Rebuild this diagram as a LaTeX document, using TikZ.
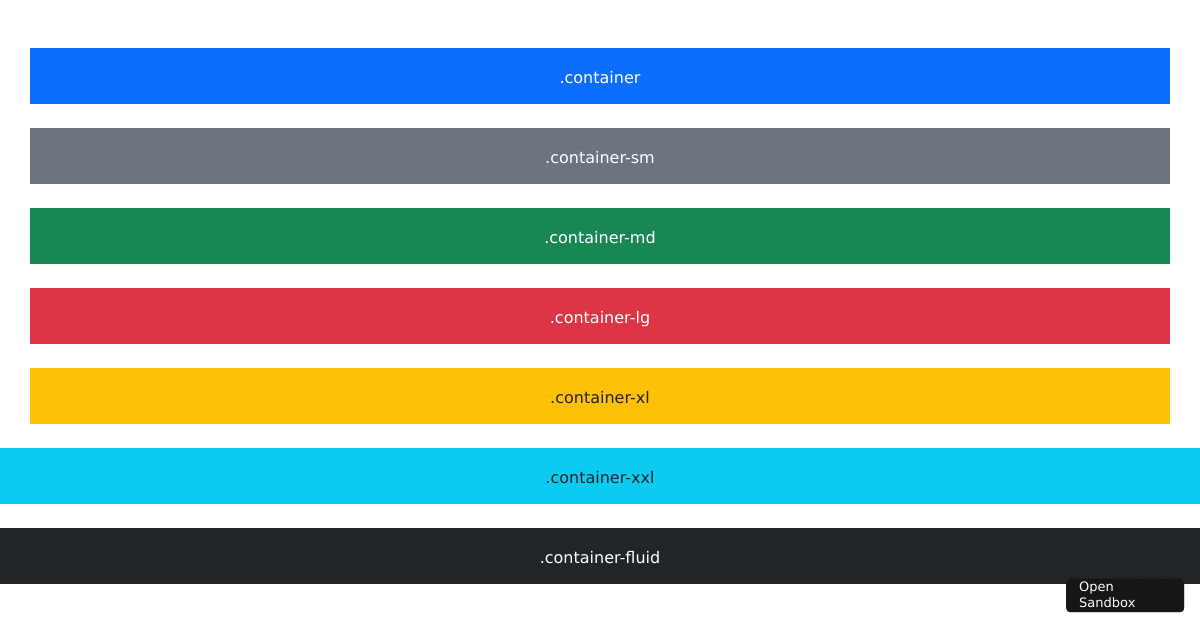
\documentclass[tikz,border=0pt]{standalone}
\usepackage{fontspec}
\setmainfont{DejaVu Sans}
\usepackage{xcolor}
\usepackage{tikz}
\usetikzlibrary{positioning}
\definecolor{bsprimary}{HTML}{0D6EFD}
\definecolor{bssecondary}{HTML}{6C757D}
\definecolor{bssuccess}{HTML}{198754}
\definecolor{bsdanger}{HTML}{DC3545}
\definecolor{bswarning}{HTML}{FFC107}
\definecolor{bsinfo}{HTML}{0DCAF0}
\definecolor{bsdark}{HTML}{212529}
\definecolor{btnfill}{HTML}{161616}
\tikzset{
  %% Container bars
  barbox/.style={
    rectangle, draw=none, inner sep=0pt, outer sep=0pt,
    minimum width=1140pt, minimum height=56pt,
    text height=14pt, text depth=0pt,
    font=\fontsize{16}{19}\selectfont, text=white},
  widebar/.style={barbox, minimum width=1200pt},
  darktext/.style={text=bsdark},
  %% Sandbox button
  btnbox/.style={
    rectangle, rounded corners=4pt,
    fill=btnfill, draw=black!60, densely dotted,
    text width=92pt, align=left, inner xsep=13pt, inner ysep=2pt,
    minimum height=34pt, text=white,
    font=\fontsize{13}{16}\selectfont},
}
\begin{document}
\begin{tikzpicture}[x=1pt, y=-1pt, node distance=24pt]
  \useasboundingbox[fill=white] (0,0) rectangle (1200,630);

  %% Bars
  \node[barbox, fill=bsprimary] (cont) at (600,76) {.container};
  \node[barbox, fill=bssecondary, below=of cont] (contsm) {.container-sm};
  \node[barbox, fill=bssuccess, below=of contsm] (contmd) {.container-md};
  \node[barbox, fill=bsdanger, below=of contmd] (contlg) {.container-lg};
  \node[barbox, fill=bswarning, darktext, below=of contlg] (contxl) {.container-xl};
  \node[widebar, fill=bsinfo, darktext, below=of contxl] (contxxl) {.container-xxl};
  \node[widebar, fill=bsdark, below=of contxxl] (fluid) {.container-fluid};

  %% Button
  \node[btnbox, anchor=north west] (sandbox) at (1066,578) {Open\\Sandbox};

\end{tikzpicture}
\end{document}
